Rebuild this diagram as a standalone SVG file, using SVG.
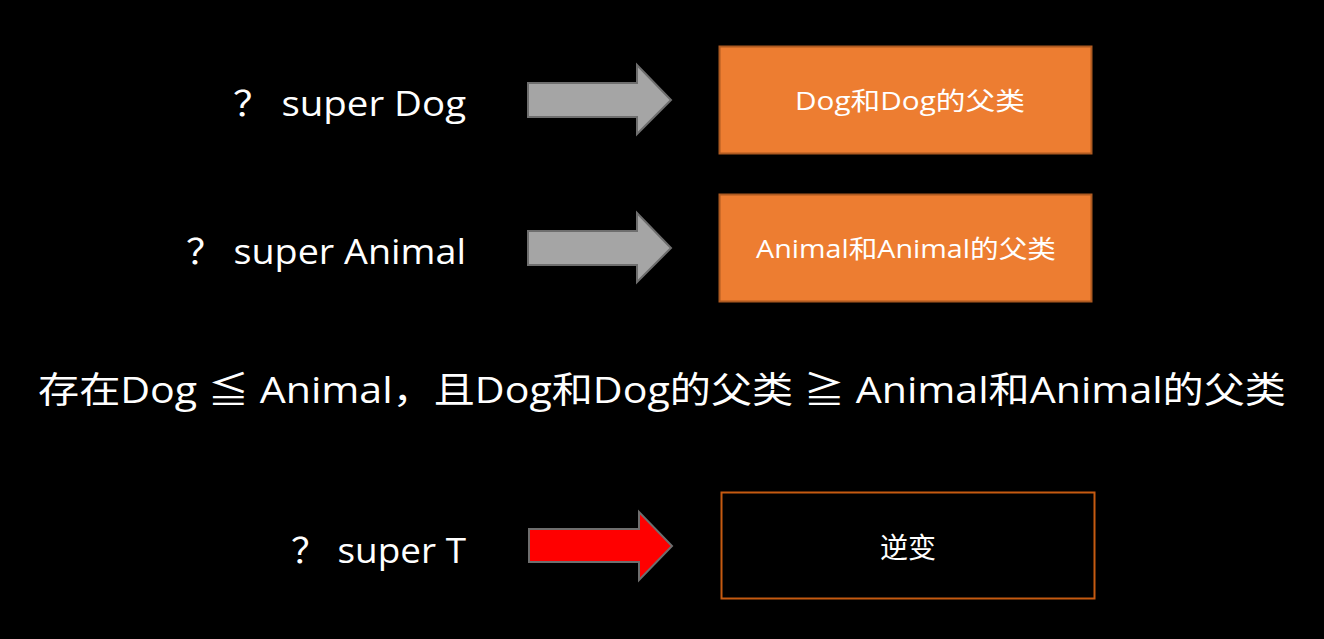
<svg xmlns="http://www.w3.org/2000/svg" width="1324" height="639" viewBox="0 0 1324 639">
<style>
.lbl{font-family:"Open Sans","Noto Sans CJK SC",sans-serif;fill:#fff;}
.q{font-size:34px;text-anchor:end;}
.bt{font-size:25px;text-anchor:middle;}
.main{font-size:36px;}
.gray{fill:#A5A5A5;stroke:#6E6E6E;stroke-width:2;}
.red{fill:#FF0000;stroke:#6E6E6E;stroke-width:2;}
.ob{fill:#ED7D31;stroke:#AE5A21;stroke-width:2;}
.bb{fill:#000;stroke:#C55A11;stroke-width:2;}
</style>
<rect width="1324" height="639" fill="#000"/>
<g id="connectors">
<polygon class="gray" points="528,83 637,83 637,65 671,100 637,134 637,117 528,117"/>
<polygon class="gray" points="528,231 637,231 637,213 671,248 637,282 637,265 528,265"/>
<polygon class="red" points="529,529 639,529 639,512 672,546 639,580 639,562 529,562"/>
</g>
<g id="q1"><text class="lbl q" x="466" y="116" textLength="233" lengthAdjust="spacingAndGlyphs">？ super Dog</text></g>
<g id="q2"><text class="lbl q" x="466" y="264" textLength="280" lengthAdjust="spacingAndGlyphs">？ super Animal</text></g>
<g id="q3"><text class="lbl q" x="466" y="563" textLength="175" lengthAdjust="spacingAndGlyphs">？ super T</text></g>
<g id="box1"><rect class="ob" x="719.5" y="46.5" width="372" height="107"/><text class="lbl bt" x="910" y="110" textLength="230" lengthAdjust="spacingAndGlyphs">Dog和Dog的父类</text></g>
<g id="box2"><rect class="ob" x="719.5" y="194.5" width="372" height="107"/><text class="lbl bt" x="906" y="258" textLength="300" lengthAdjust="spacingAndGlyphs">Animal和Animal的父类</text></g>
<g id="box3"><rect class="bb" x="721.5" y="492.5" width="373" height="106"/><text class="lbl bt" x="908" y="558" style="font-size:28px">逆变</text></g>
<g id="statement"><text class="lbl main" x="38" y="403" textLength="1248" lengthAdjust="spacingAndGlyphs">存在Dog ≦ Animal，且Dog和Dog的父类 ≧ Animal和Animal的父类</text></g>
</svg>
